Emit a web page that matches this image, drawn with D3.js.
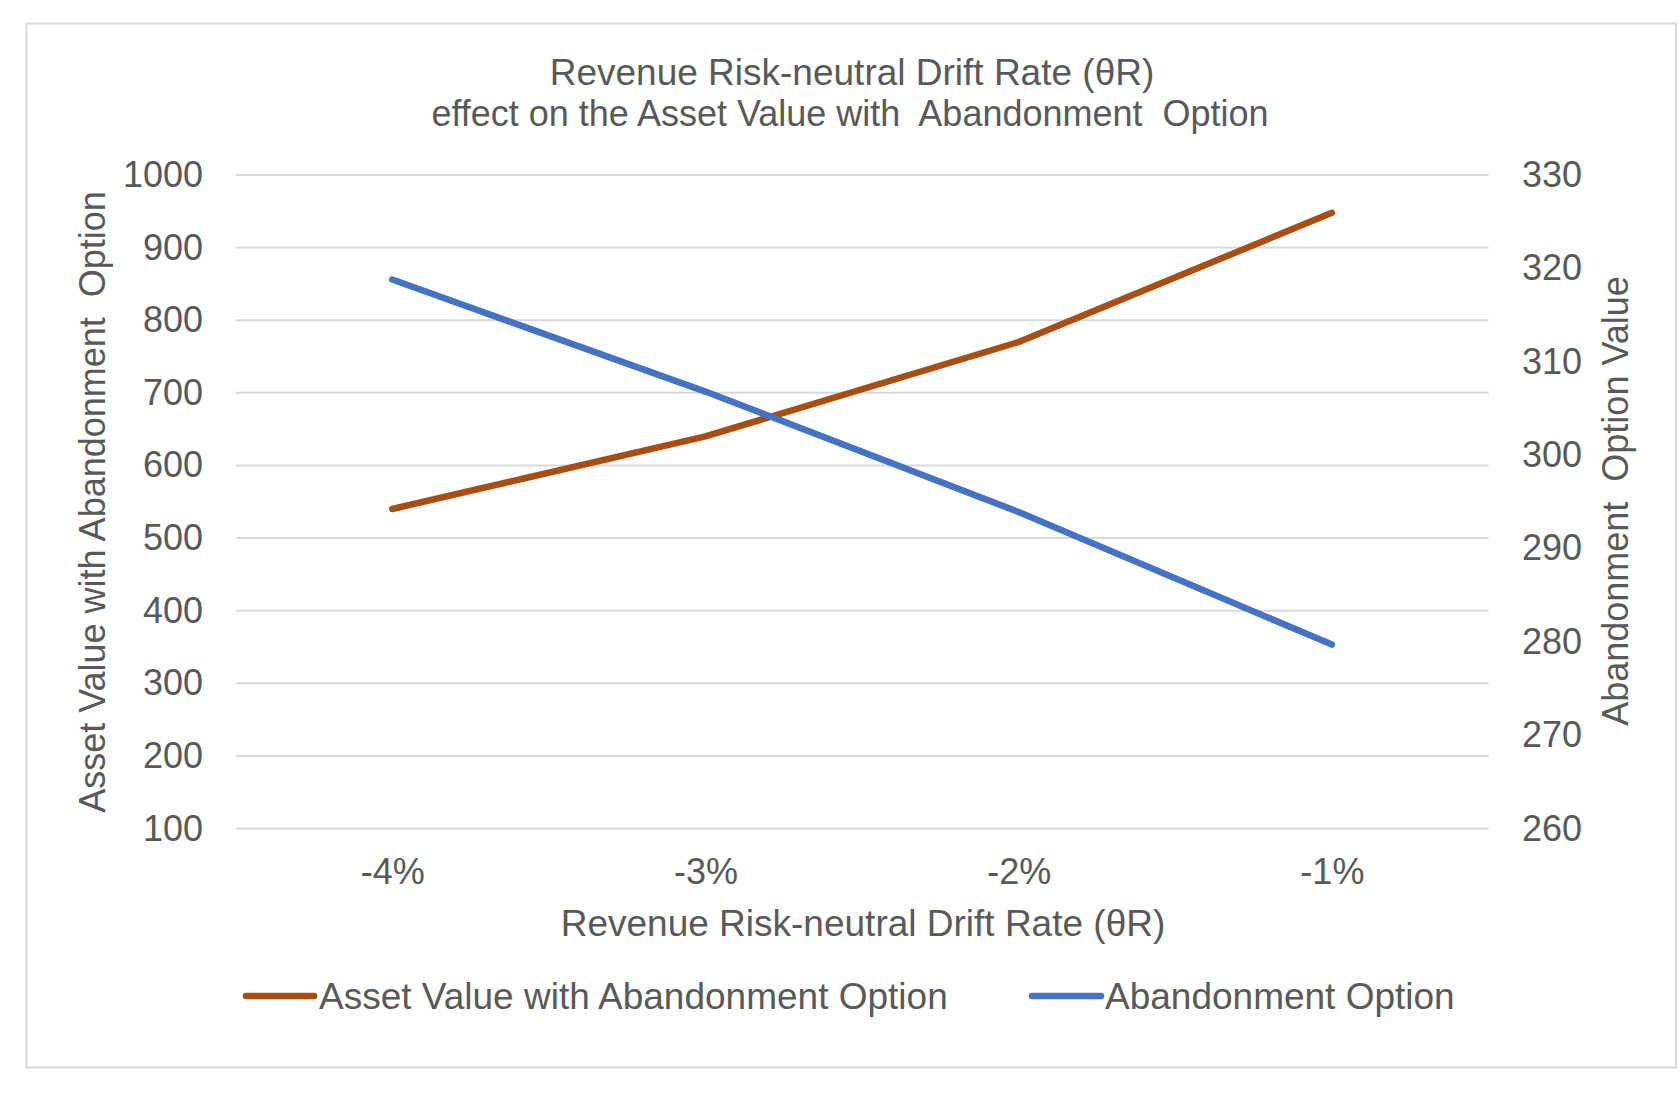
<!DOCTYPE html>
<html>
<head>
<meta charset="utf-8">
<script src="https://cdn.jsdelivr.net/npm/d3@7"></script>
<style>
  html, body { margin: 0; padding: 0; background: #fff; }
  svg { display: block; }
  text { font-family: "Liberation Sans", Arial, sans-serif; fill: #595959; }
</style>
</head>
<body>
<svg id="chart" width="1679" height="1093"></svg>
<script>
// ---- data ----
const categories = ["-4%", "-3%", "-2%", "-1%"];
const assetValue = [540, 640, 770, 948];          // left axis
const abandonmentOption = [318.8, 306.8, 293.9, 279.7]; // right axis
const leftTicks = [100, 200, 300, 400, 500, 600, 700, 800, 900, 1000];
const rightTicks = [260, 270, 280, 290, 300, 310, 320, 330];
const titleLines = ["Revenue Risk-neutral Drift Rate (θR)", "effect on the Asset Value with  Abandonment  Option"];
const xTitle = "Revenue Risk-neutral Drift Rate (θR)";
const yLeftTitle = "Asset Value with Abandonment  Option";
const yRightTitle = "Abandonment  Option Value";
const seriesNames = ["Asset Value with Abandonment Option", "Abandonment Option"];

// ---- layout ----
const W = 1679, H = 1093;
const plot = { left: 235.6, right: 1488.5, top: 175, bottom: 828.5 };
const orange = "#A94D10", blue = "#4472C4";
const fs = 36, fsBig = 37;
const lw = 6.5;

const svg = d3.select("#chart");
svg.append("rect").attr("width", W).attr("height", H).attr("fill", "#fff");
svg.append("rect").attr("x", 26.5).attr("y", 23.5).attr("width", 1649.5).attr("height", 1044)
  .attr("fill", "#fff").attr("stroke", "#d9d9d9").attr("stroke-width", 2);

const x = d3.scalePoint().domain(categories).range([plot.left, plot.right]).padding(0.5);
const yL = d3.scaleLinear().domain([100, 1000]).range([plot.bottom, plot.top]);
const yR = d3.scaleLinear().domain([260, 330]).range([plot.bottom, plot.top]);

// gridlines
svg.append("g").selectAll("line").data(leftTicks).join("line")
  .attr("x1", plot.left).attr("x2", plot.right)
  .attr("y1", d => yL(d)).attr("y2", d => yL(d))
  .attr("stroke", "#d9d9d9").attr("stroke-width", 2);

const styleTicks = g => g.selectAll("text").style("font-size", fs + "px").attr("fill", "#595959")
  .style("font-family", "Liberation Sans, Arial, sans-serif");

// left axis
const gL = svg.append("g").attr("transform", `translate(${plot.left},0)`)
  .call(d3.axisLeft(yL).tickValues(leftTicks).tickFormat(d3.format("d")).tickSize(0).tickPadding(plot.left - 203));
gL.select(".domain").remove();
styleTicks(gL);

// right axis
const gR = svg.append("g").attr("transform", `translate(${plot.right},0)`)
  .call(d3.axisRight(yR).tickValues(rightTicks).tickFormat(d3.format("d")).tickSize(0).tickPadding(1522 - plot.right));
gR.select(".domain").remove();
styleTicks(gR);

// x axis
const gX = svg.append("g").attr("transform", `translate(0,${plot.bottom})`)
  .call(d3.axisBottom(x).tickSize(0).tickPadding(30));
gX.select(".domain").remove();
styleTicks(gX);

// lines
const lineL = d3.line().x((d, i) => x(categories[i])).y(d => yL(d));
const lineR = d3.line().x((d, i) => x(categories[i])).y(d => yR(d));
svg.append("path").datum(assetValue).attr("d", lineL).attr("fill", "none")
  .attr("stroke", orange).attr("stroke-width", lw).attr("stroke-linecap", "round").attr("stroke-linejoin", "round");
svg.append("path").datum(abandonmentOption).attr("d", lineR).attr("fill", "none")
  .attr("stroke", blue).attr("stroke-width", lw).attr("stroke-linecap", "round").attr("stroke-linejoin", "round");

// title
svg.append("text").attr("x", 852).attr("y", 72).attr("text-anchor", "middle").attr("dominant-baseline", "central")
  .style("font-size", fsBig + "px").style("white-space", "pre").text(titleLines[0]);
svg.append("text").attr("x", 850).attr("y", 113).attr("text-anchor", "middle").attr("dominant-baseline", "central")
  .style("font-size", fs + "px").style("white-space", "pre").text(titleLines[1]);

// axis titles
svg.append("text").attr("x", 863).attr("y", 923).attr("text-anchor", "middle").attr("dominant-baseline", "central")
  .style("font-size", fsBig + "px").text(xTitle);
svg.append("text").attr("transform", "translate(92,502) rotate(-90)").attr("text-anchor", "middle").attr("dominant-baseline", "central")
  .style("font-size", fs + "px").style("white-space", "pre").text(yLeftTitle);
svg.append("text").attr("transform", "translate(1615,501) rotate(-90)").attr("text-anchor", "middle").attr("dominant-baseline", "central")
  .style("font-size", fs + "px").style("white-space", "pre").text(yRightTitle);

// legend
const legend = [
  { name: seriesNames[0], color: orange, x1: 246, x2: 314, tx: 319 },
  { name: seriesNames[1], color: blue, x1: 1032, x2: 1101, tx: 1105 }
];
const lg = svg.append("g").selectAll("g").data(legend).join("g");
lg.append("line").attr("x1", d => d.x1).attr("x2", d => d.x2).attr("y1", 996).attr("y2", 996)
  .attr("stroke", d => d.color).attr("stroke-width", lw).attr("stroke-linecap", "round");
lg.append("text").attr("x", d => d.tx).attr("y", 996).attr("dominant-baseline", "central")
  .style("font-size", fsBig + "px").text(d => d.name);
</script>
</body>
</html>
